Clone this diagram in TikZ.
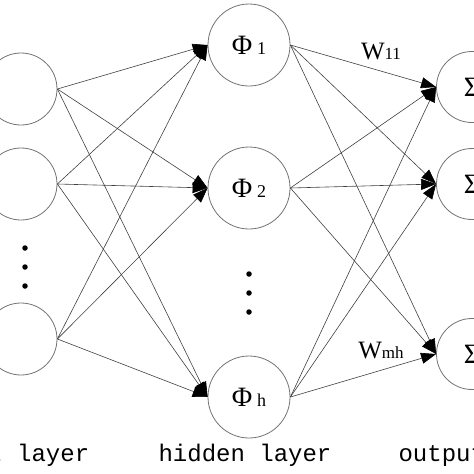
\documentclass[tikz,border=0pt]{standalone}
\usepackage{fontspec}
\setmainfont{Liberation Serif}
\newfontfamily\layerfont{Liberation Mono}
\usetikzlibrary{arrows.meta}

\tikzset{
  neuron/.style={circle,draw=black!55,line width=0.8pt,inner sep=0pt},
  inneuron/.style={neuron,minimum size=72pt},
  hidneuron/.style={neuron,minimum size=82pt},
  outneuron/.style={neuron,minimum size=71pt},
  link/.style={draw=black!75,line width=0.6pt,-{Triangle[length=15pt,width=11pt,color=black]}},
  vdot/.style={circle,fill=black,inner sep=0pt,minimum size=5.5pt},
  layerlabel/.style={font=\layerfont\fontsize{24}{24}\selectfont,anchor=base},
  big/.style={font=\fontsize{28}{28}\selectfont}
}

\begin{document}
\begin{tikzpicture}[x=1pt,y=-1pt]
\useasboundingbox (0,0) rectangle (474,474);
\clip (0,0) rectangle (474,474);

\node[inneuron] (i1) at (21,89) {};
\node[inneuron] (i2) at (21,184) {};
\node[inneuron] (i3) at (21,339) {};
\node[vdot] (id1) at (25,248) {};
\node[vdot] (id2) at (25,267) {};
\node[vdot] (id3) at (25,286) {};

\node[hidneuron,big] (h1) at (249,45) {Φ\hspace{5pt}{\fontsize{18}{18}\selectfont 1}};
\node[hidneuron,big] (h2) at (249,188) {Φ\hspace{5pt}{\fontsize{18}{18}\selectfont 2}};
\node[hidneuron,big] (h3) at (249,397) {Φ\hspace{5pt}{\fontsize{18}{18}\selectfont h}};
\node[vdot] (hd1) at (249,274) {};
\node[vdot] (hd2) at (249,293) {};
\node[vdot] (hd3) at (249,312) {};

\node[outneuron,big] (o1) at (472,87) {Σ};
\node[outneuron,big] (o2) at (472,184) {Σ};
\node[outneuron,big] (o3) at (472,354) {Σ};

\draw[link] (i1.east) -- (h1.west);
\draw[link] (i1.east) -- (h2.west);
\draw[link] (i1.east) -- (h3.west);
\draw[link] (i2.east) -- (h1.west);
\draw[link] (i2.east) -- (h2.west);
\draw[link] (i2.east) -- (h3.west);
\draw[link] (i3.east) -- (h1.west);
\draw[link] (i3.east) -- (h2.west);
\draw[link] (i3.east) -- (h3.west);

\draw[link] (h1.east) -- (o1.west);
\draw[link] (h1.east) -- (o2.west);
\draw[link] (h1.east) -- (o3.west);
\draw[link] (h2.east) -- (o1.west);
\draw[link] (h2.east) -- (o2.west);
\draw[link] (h2.east) -- (o3.west);
\draw[link] (h3.east) -- (o1.west);
\draw[link] (h3.east) -- (o2.west);
\draw[link] (h3.east) -- (o3.west);

\node (w11) at (381,52) {\fontsize{25}{25}\selectfont W{\fontsize{17}{17}\selectfont 11}};
\node (wmh) at (381,350) {\fontsize{25}{25}\selectfont W{\fontsize{17}{17}\selectfont mh}};

\node[layerlabel] (inlabel) at (10,461) {input layer};
\node[layerlabel] (hidlabel) at (245,461) {hidden layer};
\node[layerlabel] (outlabel) at (485,461) {output layer};
\end{tikzpicture}
\end{document}
